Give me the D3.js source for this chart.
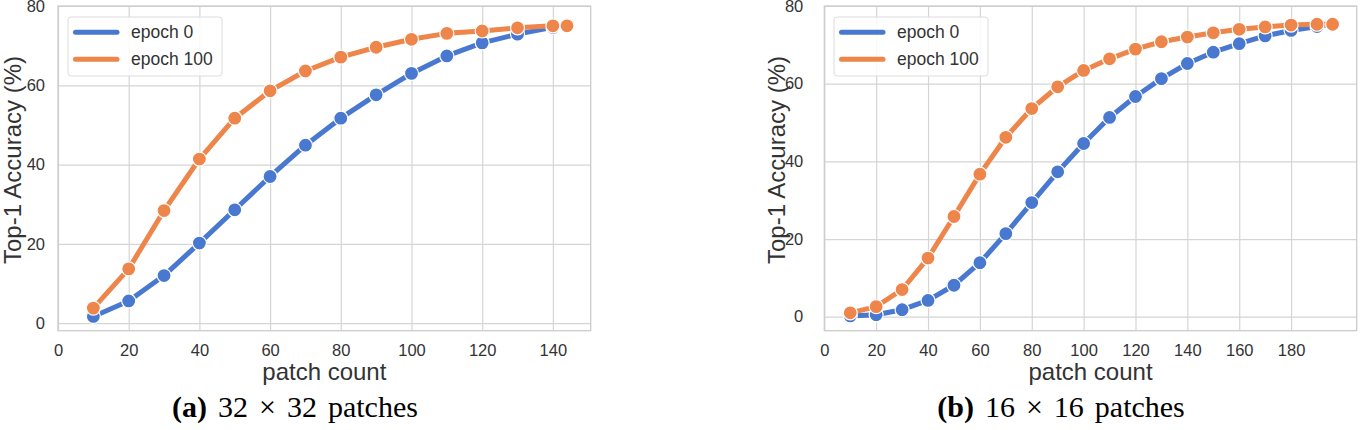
<!DOCTYPE html>
<html>
<head>
<meta charset="utf-8">
<script src="https://cdn.jsdelivr.net/npm/d3@7"></script>
<style>
  body { margin: 0; background: #fff; }
  svg { display: block; }
</style>
</head>
<body>
<svg width="1361" height="430"></svg>
<script>
var charts = charts || {};

// (a) 32 x 32 patches
var patch_counts_32 = [10, 20, 30, 40, 50, 60, 70, 80, 90, 100, 110, 120, 130, 140, 144];
var epoch0_32 = [1.7, 5.6, 12.0, 20.2, 28.6, 37.0, 44.9, 51.7, 57.6, 63.0, 67.4, 70.7, 72.9, 74.6, 75.0];
var epoch100_32 = [3.8, 13.7, 28.4, 41.4, 51.7, 58.6, 63.6, 67.1, 69.6, 71.6, 73.1, 73.7, 74.5, 75.0, 75.0];
var x_ticks_32 = [0, 20, 40, 60, 80, 100, 120, 140];

// (b) 16 x 16 patches
var patch_counts_16 = [10, 20, 30, 40, 50, 60, 70, 80, 90, 100, 110, 120, 130, 140, 150, 160, 170, 180, 190, 196];
var epoch0_16 = [0.2, 0.5, 1.8, 4.2, 8.1, 13.9, 21.4, 29.4, 37.3, 44.6, 51.3, 56.7, 61.3, 65.2, 68.1, 70.3, 72.3, 73.7, 74.7, 75.2];
var epoch100_16 = [1.0, 2.6, 7.0, 15.1, 25.8, 36.7, 46.2, 53.6, 59.2, 63.4, 66.4, 68.9, 70.8, 72.0, 73.1, 74.0, 74.6, 75.1, 75.3, 75.3];
var x_ticks_16 = [0, 20, 40, 60, 80, 100, 120, 140, 160, 180];

var y_ticks = [0, 20, 40, 60, 80];
var series_names = ['epoch 0', 'epoch 100'];
var series_colors = ['#4878d0', '#ee854a'];

charts.painter = function() {
    'use strict';

    var panels = [
        {
            xs: patch_counts_32, ys: [epoch0_32, epoch100_32], x_ticks: x_ticks_32,
            left: 58, right: 590.7, top: 6, bottom: 330.7,
            x_domain: [0, 150.7], y_domain: [-1.9, 80],
            ytick_pad: 13, ylabel_x: 21, legend_x: 68,
            caption_x: 295, tag: '(a)', caption: ' 32 \u00d7 32 patches'
        },
        {
            xs: patch_counts_16, ys: [epoch0_16, epoch100_16], x_ticks: x_ticks_16,
            left: 824.3, right: 1356.7, top: 6, bottom: 330.7,
            x_domain: [0, 205.3], y_domain: [-3.6, 80],
            ytick_pad: 21, ylabel_x: 785, legend_x: 834,
            caption_x: 1061, tag: '(b)', caption: ' 16 \u00d7 16 patches'
        }
    ];

    var sans = "'Liberation Sans', Arial, sans-serif";
    var serif = "'Liberation Serif', 'Times New Roman', serif";

    function draw_panel(svg, p) {
        var w = p.right - p.left, h = p.bottom - p.top;
        var x = d3.scaleLinear().domain(p.x_domain).range([0, w]);
        var y = d3.scaleLinear().domain(p.y_domain).range([h, 0]);

        var g = svg.append('g').attr('transform', 'translate(' + p.left + ',' + p.top + ')');

        var xa = g.append('g').attr('transform', 'translate(0,' + h + ')')
            .call(d3.axisBottom(x).tickValues(p.x_ticks).tickSize(-h).tickPadding(0));
        xa.selectAll('text').attr('y', 25.3).attr('dy', null);

        var ya = g.append('g')
            .call(d3.axisLeft(y).tickValues(y_ticks).tickSize(-w).tickPadding(p.ytick_pad));

        [xa, ya].forEach(function(a) {
            a.select('.domain').remove();
            a.selectAll('line').attr('stroke', '#d5d5d5').attr('stroke-width', 1.2);
            a.selectAll('text').attr('fill', '#333').style('font-family', sans).style('font-size', '16.5px');
        });

        g.append('rect').attr('width', w).attr('height', h)
            .attr('fill', 'none').attr('stroke', '#cccccc').attr('stroke-width', 1.3);

        var line = d3.line()
            .x(function(d) { return x(d[0]); })
            .y(function(d) { return y(d[1]); });

        p.ys.forEach(function(vals, i) {
            var pts = p.xs.map(function(v, j) { return [v, vals[j]]; });
            var sg = g.append('g');
            sg.append('path').datum(pts).attr('d', line)
                .attr('fill', 'none').attr('stroke', series_colors[i])
                .attr('stroke-width', 5).attr('stroke-linejoin', 'round').attr('stroke-linecap', 'round');
            sg.selectAll('circle').data(pts).enter().append('circle')
                .attr('cx', function(d) { return x(d[0]); })
                .attr('cy', function(d) { return y(d[1]); })
                .attr('r', 7)
                .attr('fill', series_colors[i])
                .attr('stroke', '#fff').attr('stroke-width', 1.2);
        });

        // legend
        var lg = svg.append('g').attr('transform', 'translate(' + p.legend_x + ',17)');
        lg.append('rect').attr('width', 154).attr('height', 59).attr('rx', 3)
            .attr('fill', '#fff').attr('fill-opacity', 0.85)
            .attr('stroke', '#dcdcdc').attr('stroke-width', 1);
        series_names.forEach(function(name, i) {
            var ly = 15.3 + i * 27;
            lg.append('line').attr('x1', 7.5).attr('x2', 49).attr('y1', ly).attr('y2', ly)
                .attr('stroke', series_colors[i]).attr('stroke-width', 5).attr('stroke-linecap', 'round');
            lg.append('text').attr('x', 63).attr('y', ly + 6)
                .attr('fill', '#333').style('font-family', sans).style('font-size', '17.5px')
                .text(name);
        });

        // axis labels
        svg.append('text').attr('x', p.left + w / 2).attr('y', 380)
            .attr('text-anchor', 'middle').attr('fill', '#333')
            .style('font-family', sans).style('font-size', '24px').text('patch count');
        svg.append('text')
            .attr('transform', 'translate(' + p.ylabel_x + ',160) rotate(-90)')
            .attr('text-anchor', 'middle').attr('fill', '#333')
            .style('font-family', sans).style('font-size', '24px').text('Top-1 Accuracy (%)');

        // caption
        var cap = svg.append('text').attr('x', p.caption_x).attr('y', 417)
            .attr('text-anchor', 'middle').attr('fill', '#000')
            .style('font-family', serif).style('font-size', '30px')
            .style('word-spacing', '3.5px');
        cap.append('tspan').style('font-weight', 'bold').text(p.tag);
        cap.append('tspan').attr('xml:space', 'preserve').text(p.caption);
    }

    return {
        apply_to_page: function() {
            var svg = d3.select('svg');
            panels.forEach(function(p) { draw_panel(svg, p); });
        }
    };
};

charts.painter().apply_to_page();
</script>
</body>
</html>
